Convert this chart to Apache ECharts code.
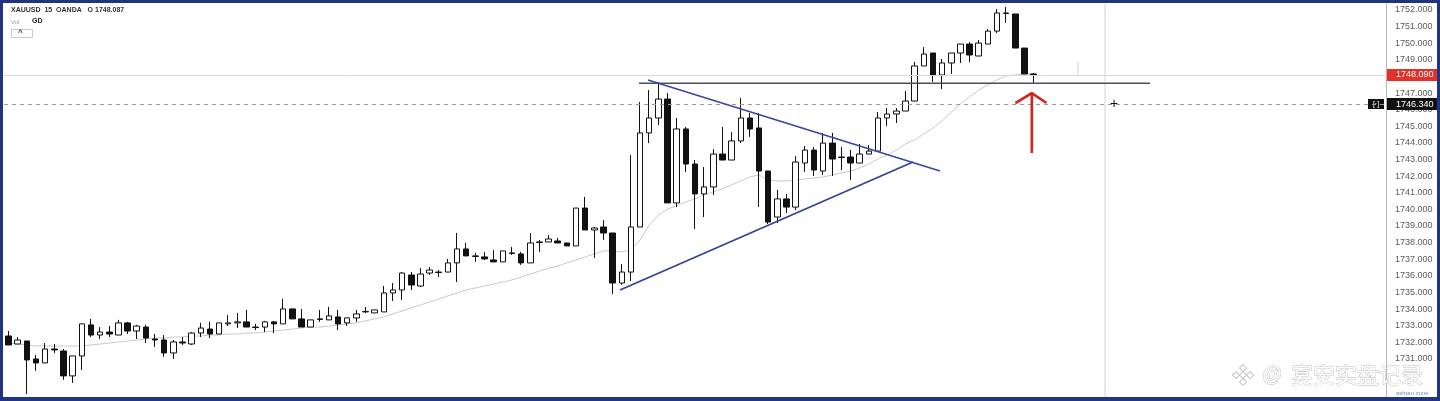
<!DOCTYPE html>
<html>
<head>
<meta charset="utf-8">
<script src="https://cdn.jsdelivr.net/npm/echarts/dist/echarts.min.js"></script>
<style>
html,body{margin:0;padding:0;background:#fff;}
#c{width:1440px;height:401px;}
</style>
</head>
<body>
<div id="c"></div>
<script>
// ---- data (prices) ----
const barCount = 151; // visible slots on the time axis (incl. empty space on the right)
const categories = Array.from({length: barCount}, (_, i) => String(i + 1));

const open = [1732.38,1731.90,1732.08,1731.00,1730.76,1731.60,1731.48,1729.98,1731.18,1733.05,
1732.44,1732.62,1732.44,1733.17,1732.68,1732.92,1732.20,1732.14,1731.36,1732.02,
1731.90,1732.56,1732.80,1732.50,1733.11,1733.17,1733.23,1732.92,1732.92,1733.23,
1733.11,1734.01,1733.41,1732.92,1733.41,1733.35,1733.53,1733.17,1733.47,1733.83,
1733.77,1733.83,1734.97,1735.15,1736.05,1735.39,1736.17,1736.23,1736.23,1736.78,
1737.62,1737.20,1737.14,1736.96,1736.84,1737.38,1737.32,1736.78,1738.04,1738.04,
1738.10,1737.98,1737.80,1740.08,1738.76,1738.94,1738.58,1735.57,1736.23,1738.94,
1744.60,1745.50,1746.64,1740.39,1744.84,1742.73,1740.93,1741.35,1743.33,1742.97,
1744.12,1745.50,1744.90,1742.31,1739.54,1740.63,1740.14,1742.79,1743.57,1742.31,
1743.99,1743.15,1743.15,1742.79,1743.33,1743.51,1745.50,1745.74,1745.92,1746.52,
1748.63,1749.41,1748.09,1748.81,1749.41,1749.95,1749.23,1749.95,1750.73,1751.82,
1751.76,1749.71,1748.15];

const close = [1731.84,1732.14,1730.94,1730.76,1731.60,1731.54,1729.98,1731.18,1733.11,1732.44,
1732.62,1732.50,1733.17,1732.68,1732.98,1732.26,1732.14,1731.36,1732.02,1731.96,
1732.56,1732.86,1732.50,1733.17,1733.17,1733.23,1732.92,1732.89,1733.23,1733.11,
1734.01,1733.41,1732.92,1733.35,1733.38,1733.59,1733.11,1733.47,1733.71,1733.86,
1733.95,1734.97,1735.15,1736.17,1735.45,1736.11,1736.35,1736.20,1736.78,1737.62,
1737.20,1737.17,1737.02,1736.84,1737.50,1737.35,1736.78,1737.98,1738.01,1738.22,
1737.98,1737.80,1740.08,1738.76,1738.88,1738.58,1735.57,1736.23,1738.94,1744.60,
1745.50,1746.64,1740.39,1744.84,1742.73,1740.93,1741.35,1743.33,1742.97,1744.12,
1745.50,1744.84,1742.31,1739.24,1740.63,1740.14,1742.85,1743.57,1742.37,1743.99,
1743.03,1743.12,1742.79,1743.33,1743.51,1745.50,1745.74,1745.92,1746.52,1748.63,
1749.35,1748.09,1748.81,1749.41,1749.95,1749.29,1750.01,1750.73,1751.82,1751.79,
1749.71,1748.15,1748.09];

const low = [1731.84,1731.90,1728.89,1730.28,1730.76,1731.36,1729.74,1729.56,1730.34,1732.32,
1732.20,1732.32,1732.44,1732.50,1732.20,1731.96,1731.72,1731.12,1731.00,1731.84,
1731.84,1732.32,1732.26,1732.50,1732.98,1732.86,1732.92,1732.74,1732.62,1732.56,
1733.11,1733.41,1732.92,1732.92,1733.23,1733.35,1732.74,1732.98,1733.23,1733.77,
1733.77,1733.83,1734.49,1734.55,1735.15,1735.33,1736.05,1735.93,1736.23,1735.63,
1737.20,1736.84,1736.96,1736.84,1736.84,1737.26,1736.66,1736.78,1737.44,1738.04,
1737.98,1737.80,1737.80,1738.76,1737.08,1738.16,1734.91,1735.45,1735.69,1738.94,
1743.99,1745.08,1740.39,1740.14,1742.25,1738.82,1739.54,1740.87,1742.97,1742.97,
1743.99,1744.36,1740.14,1739.12,1739.18,1739.78,1739.96,1742.25,1742.01,1742.07,
1742.01,1742.37,1741.77,1742.79,1743.33,1743.51,1745.02,1745.20,1745.92,1746.52,
1748.63,1747.67,1747.24,1748.15,1748.81,1748.87,1749.23,1749.95,1750.61,1751.22,
1749.71,1748.15,1747.61];

const high = [1732.68,1732.32,1732.08,1731.24,1731.96,1731.90,1731.60,1731.18,1733.11,1733.41,
1732.92,1732.98,1733.35,1733.23,1733.05,1733.05,1732.50,1732.44,1732.14,1732.32,
1732.62,1733.17,1733.23,1733.17,1733.65,1733.77,1733.95,1733.11,1733.29,1733.29,
1734.61,1734.01,1734.01,1733.35,1733.95,1734.13,1733.95,1733.47,1733.95,1734.13,
1733.95,1735.39,1735.57,1736.23,1736.23,1736.47,1736.53,1736.35,1737.02,1738.58,
1737.98,1737.38,1737.44,1737.56,1737.50,1737.74,1737.44,1738.58,1738.16,1738.46,
1738.28,1737.98,1740.08,1740.75,1738.94,1739.36,1738.58,1736.71,1743.27,1746.46,
1747.18,1747.61,1747.00,1745.50,1744.96,1742.97,1742.55,1743.63,1744.96,1744.66,
1746.70,1745.80,1745.80,1742.31,1741.17,1740.93,1743.21,1743.81,1743.75,1744.60,
1744.60,1743.75,1743.57,1743.93,1743.87,1745.86,1746.10,1746.10,1747.12,1748.87,
1749.77,1749.41,1749.05,1749.41,1749.95,1750.07,1750.19,1750.85,1752.06,1752.18,
1751.76,1749.71,1748.21];

const movingAverage = [1731.96,1731.90,1731.84,1731.78,1731.78,1731.78,1731.78,1731.78,1731.78,1731.84,
1731.90,1731.96,1732.02,1732.08,1732.14,1732.20,1732.26,1732.26,1732.32,1732.32,
1732.38,1732.38,1732.44,1732.44,1732.50,1732.50,1732.56,1732.56,1732.62,1732.68,
1732.74,1732.80,1732.86,1732.92,1732.92,1732.98,1733.05,1733.11,1733.17,1733.29,
1733.41,1733.53,1733.71,1733.89,1734.07,1734.25,1734.43,1734.61,1734.79,1734.97,
1735.15,1735.27,1735.39,1735.51,1735.63,1735.75,1735.93,1736.11,1736.29,1736.47,
1736.59,1736.78,1736.96,1737.14,1737.32,1737.50,1737.50,1737.44,1737.56,1738.16,
1739.06,1739.66,1740.02,1740.21,1740.45,1740.63,1740.87,1741.05,1741.23,1741.47,
1741.71,1741.95,1742.07,1741.77,1741.71,1741.71,1741.77,1741.83,1741.89,1741.95,
1742.07,1742.19,1742.31,1742.49,1742.73,1743.03,1743.27,1743.57,1743.94,1744.18,
1744.54,1744.90,1745.32,1745.86,1746.34,1746.76,1747.18,1747.49,1747.79,1748.03,
1748.09,1748.15,1748.15];

const yTicks = [1731,1732,1733,1734,1735,1736,1737,1738,1739,1740,1741,1742,1743,1744,1745,1746,1747,1748,1749,1750,1751,1752];

// drawn annotations: [bar position, price]
const trendUpper = [[69.87, 1747.79], [101.77, 1742.31]];
const trendLower = [[66.81, 1735.15], [98.82, 1742.85]];
const resistance = [[68.88, 1747.59], [124.72, 1747.59]];
const arrowShaft = [[111.8, 1743.39], [111.8, 1747.00]];
const arrowHead = [[110.0, 1746.40], [111.8, 1747.00], [113.4, 1746.40]];
const smallTick = [[116.85, 1748.09], [116.85, 1748.87]];
const lastPrice = 1748.09;
const crossPrice = 1746.34;
const crossBar = 119.8;

const ohlc = open.map((o, i) => [o, close[i], low[i], high[i]]);

const chart = echarts.init(document.getElementById('c'), null, {renderer: 'canvas'});
const font = 'Liberation Sans, Arial, sans-serif';

function seg(data, color, width, extra) {
  return Object.assign({
    type: 'line', xAxisIndex: 1, yAxisIndex: 0, data: data,
    showSymbol: false, symbol: 'none', silent: true, animation: false,
    lineStyle: {color: color, width: width}, z: 5
  }, extra || {});
}

chart.setOption({
  animation: false,
  backgroundColor: '#ffffff',
  grid: {left: 4, right: 54, top: 4, bottom: 4},
  xAxis: [
    {type: 'category', data: categories, boundaryGap: true, show: false},
    {type: 'value', min: -0.5, max: barCount - 0.5, show: false}
  ],
  yAxis: [{
    type: 'value', position: 'right', min: 1728.71, max: 1752.36, scale: true,
    axisLine: {show: true, onZero: false, lineStyle: {color: '#b5b5b5', width: 1}},
    axisTick: {show: false},
    splitLine: {show: false},
    axisLabel: {
      customValues: yTicks, margin: 9, color: '#5a5a5a', fontSize: 9, fontFamily: font,
      formatter: v => v.toFixed(3)
    }
  }],
  series: [
    {
      type: 'line', name: 'MA', data: movingAverage, xAxisIndex: 0,
      showSymbol: false, symbol: 'none', silent: true,
      lineStyle: {color: '#c9c9c9', width: 1}, z: 1
    },
    {
      type: 'candlestick', name: 'price', data: ohlc, xAxisIndex: 0, barWidth: 6,
      itemStyle: {color: '#ffffff', color0: '#111111', borderColor: '#111111', borderColor0: '#111111', borderWidth: 1},
      z: 3,
      markLine: {
        silent: true, symbol: ['none', 'none'], animation: false,
        data: [
          {yAxis: lastPrice, lineStyle: {color: '#d6d6d6', type: 'solid', width: 1},
           label: {show: true, position: 'end', distance: 1, formatter: lastPrice.toFixed(3),
             backgroundColor: '#e2302b', color: '#fff', fontSize: 9, fontFamily: font, padding: [2, 8, 1, 9]}},
          {yAxis: crossPrice, lineStyle: {color: '#9a9a9a', type: [4, 4], width: 1},
           label: {show: true, position: 'end', distance: 1, formatter: crossPrice.toFixed(3),
             backgroundColor: '#111', color: '#fff', fontSize: 9, fontFamily: font, padding: [2, 8, 1, 9]}}
        ]
      }
    },
    seg([[crossBar, 1728.71], [crossBar, 1752.36]], '#d4d4d4', 1),
    seg(smallTick, '#d0d0d0', 1),
    seg(resistance, '#4b4f5a', 1.3),
    seg(trendUpper, '#3548a4', 1.6),
    seg(trendLower, '#2f4196', 1.6),
    seg(arrowShaft, '#d3231d', 2.6),
    seg(arrowHead, '#d3231d', 2.6)
  ],
  graphic: [
    {type: 'text', left: 11, top: 7, style: {text: 'XAUUSD  15  OANDA   O 1748.087', fill: '#333', font: 'bold 7px ' + font}},
    {type: 'text', left: 11, top: 19, style: {text: 'Vol', fill: '#999', font: '6px ' + font}},
    {type: 'text', left: 32, top: 18, style: {text: 'GD', fill: '#222', font: 'bold 7px ' + font}},
    {type: 'rect', shape: {x: 11.5, y: 29.5, width: 21, height: 8}, style: {fill: '#fff', stroke: '#c9c9c9', lineWidth: 1}},
    {type: 'text', left: 18, top: 29, style: {text: '^', fill: '#333', font: 'bold 8px ' + font}},
    // crosshair marker
    {type: 'text', x: 1114, y: 104, style: {text: '+', fill: '#111', font: '14px ' + font, align: 'center', verticalAlign: 'middle'}},
    {type: 'rect', shape: {x: 1368, y: 99, width: 16, height: 10}, style: {fill: '#111'}},
    {type: 'text', x: 1376, y: 104, style: {text: '[·]', fill: '#fff', font: '7px ' + font, align: 'center', verticalAlign: 'middle'}},
    // watermark
    {type: 'group', x: 1243, y: 375, z: 50, children: [
      {type: 'rect', rotation: Math.PI / 4, shape: {x: -2.5, y: -2.5, width: 5, height: 5}, style: {fill: 'none', stroke: '#c4c4c4', lineWidth: 1}},
      {type: 'rect', rotation: Math.PI / 4, x: 0, y: -7, shape: {x: -2.5, y: -2.5, width: 5, height: 5}, style: {fill: 'none', stroke: '#c4c4c4', lineWidth: 1}},
      {type: 'rect', rotation: Math.PI / 4, x: 0, y: 7, shape: {x: -2.5, y: -2.5, width: 5, height: 5}, style: {fill: 'none', stroke: '#c4c4c4', lineWidth: 1}},
      {type: 'rect', rotation: Math.PI / 4, x: -7, y: 0, shape: {x: -2.5, y: -2.5, width: 5, height: 5}, style: {fill: 'none', stroke: '#c4c4c4', lineWidth: 1}},
      {type: 'rect', rotation: Math.PI / 4, x: 7, y: 0, shape: {x: -2.5, y: -2.5, width: 5, height: 5}, style: {fill: 'none', stroke: '#c4c4c4', lineWidth: 1}}
    ]},
    {type: 'text', x: 1262, y: 375, z: 50, style: {text: '@', fill: '#fff', stroke: '#bdbdbd', lineWidth: 0.9, font: '20px ' + font, verticalAlign: 'middle'}},
    {type: 'text', x: 1291, y: 375, z: 50, style: {text: '宴安实盘记录', fill: '#fff', stroke: '#bcbcbc', lineWidth: 0.9, font: '22px "Noto Sans CJK SC"', verticalAlign: 'middle'}},
    {type: 'text', x: 1396, y: 393, z: 50, style: {text: 'ashtan zone', fill: '#6d8fc9', font: '6px ' + font, verticalAlign: 'middle'}},
    // outer frame
    {type: 'rect', z: 60, shape: {x: 1.5, y: 1.5, width: 1437, height: 397}, style: {fill: 'none', stroke: '#1f3582', lineWidth: 3}},
    {type: 'rect', z: 60, shape: {x: 0, y: 397, width: 1440, height: 4}, style: {fill: '#1f3582'}}
  ]
});
</script>
</body>
</html>
